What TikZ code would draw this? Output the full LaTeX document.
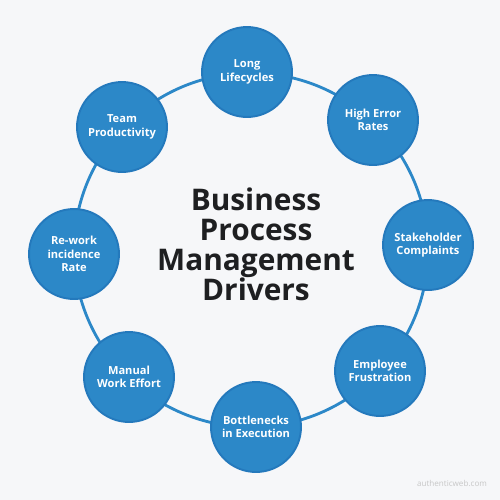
\documentclass[tikz,border=0pt]{standalone}
\usepackage{fontspec}
\setmainfont{Open Sans}
\definecolor{bgc}{HTML}{F6F7F9}
\definecolor{blu}{HTML}{2C88C8}
\definecolor{blud}{HTML}{2479BC}
\definecolor{ink}{HTML}{1E1F21}
\begin{document}
\begin{tikzpicture}[x=0.5669pt,y=-0.5669pt,
  drv/.style={circle,fill=blu,draw=blud,line width=1.1pt,minimum size=51pt,inner sep=0pt,
    text=white,align=center,font=\bfseries\fontsize{6.3}{7.7}\selectfont},
  ringline/.style={draw=blu,line width=1.6pt},
  title/.style={text=ink,align=center,font=\bfseries\fontsize{16.9}{17}\selectfont},
  wmark/.style={text=black!22,font=\fontsize{4.6}{5}\selectfont}]
\fill[bgc] (0,0) rectangle (500,500);
\useasboundingbox (0,0) rectangle (500,500);
\node[circle,ringline,minimum size=200.7pt,inner sep=0pt] (ring) at (251,250) {};
\node[drv] (long) at (247,72) {Long\\Lifecycles};
\node[drv] (high) at (373,120) {High Error\\Rates};
\node[drv] (stake) at (428,245) {Stakeholder\\Complaints};
\node[drv] (emp) at (380,371) {Employee\\Frustration};
\node[drv] (bott) at (256,427) {Bottlenecks\\in Execution};
\node[drv] (man) at (129,377) {Manual\\Work Effort};
\node[drv] (rew) at (74,254) {Re-work\\incidence\\Rate};
\node[drv] (team) at (122,127) {Team\\Productivity};
\node[title] (ttl) at (256,244) {Business\\Process\\Management\\Drivers};
\node[wmark] (wm) at (452,483) {authenticweb.com};
\end{tikzpicture}
\end{document}
